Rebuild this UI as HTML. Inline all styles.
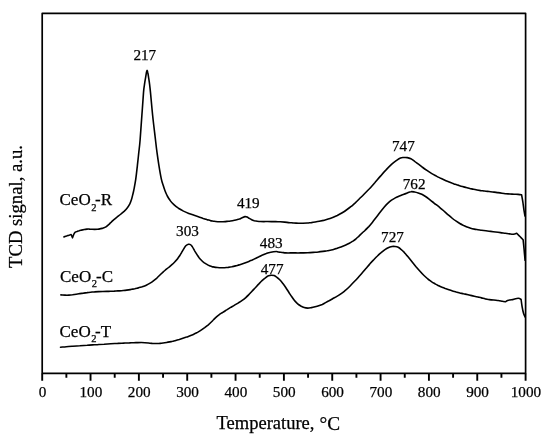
<!DOCTYPE html><html><head><meta charset="utf-8"><style>html,body{margin:0;padding:0;background:#fff;}svg{display:block}text{font-family:"Liberation Serif","Times New Roman",serif;fill:#000;stroke:#000;stroke-width:0.25px}</style></head><body>
<svg width="550" height="441" viewBox="0 0 550 441">
<rect x="42.2" y="13.3" width="483.40000000000003" height="360.09999999999997" fill="none" stroke="#000" stroke-width="1.7" stroke-linejoin="round"/>
<path d="M42.20,373.4V380.70M66.37,373.4V377.70M90.54,373.4V380.70M114.71,373.4V377.70M138.88,373.4V380.70M163.05,373.4V377.70M187.22,373.4V380.70M211.39,373.4V377.70M235.56,373.4V380.70M259.73,373.4V377.70M283.90,373.4V380.70M308.07,373.4V377.70M332.24,373.4V380.70M356.41,373.4V377.70M380.58,373.4V380.70M404.75,373.4V377.70M428.92,373.4V380.70M453.09,373.4V377.70M477.26,373.4V380.70M501.43,373.4V377.70M525.60,373.4V380.70" stroke="#000" stroke-width="1.9" fill="none"/>
<path d="M63.9,237.0 C64.3,236.8 65.7,236.3 66.6,236.0 C67.4,235.7 68.3,235.5 69.1,235.2 C69.9,234.9 71.1,234.5 71.1,234.5 C71.1,234.5 72.5,237.8 72.5,237.8 C72.5,237.8 73.6,234.7 73.6,234.7 C73.6,234.7 74.4,232.9 75.0,232.4 C75.6,231.9 76.3,231.7 77.0,231.5 C77.7,231.2 78.4,230.9 79.2,230.7 C79.9,230.5 80.8,230.3 81.6,230.1 C82.5,229.9 83.4,229.7 84.3,229.5 C85.2,229.3 86.1,229.2 87.0,229.1 C87.9,229.0 88.8,229.0 89.6,229.1 C90.5,229.1 91.3,229.2 92.2,229.3 C93.0,229.4 93.9,229.4 94.7,229.4 C95.6,229.4 96.4,229.4 97.3,229.3 C98.1,229.2 99.0,229.1 99.8,228.9 C100.6,228.8 101.4,228.6 102.2,228.4 C102.9,228.1 103.7,227.9 104.4,227.6 C105.1,227.3 105.7,226.9 106.4,226.5 C107.1,226.0 107.7,225.4 108.4,224.8 C109.2,224.2 109.9,223.4 110.7,222.7 C111.5,221.9 112.4,221.0 113.4,220.1 C114.4,219.3 115.5,218.3 116.7,217.4 C117.9,216.4 119.2,215.5 120.4,214.5 C121.6,213.5 122.9,212.4 124.1,211.4 C125.2,210.3 126.3,209.2 127.2,208.0 C128.2,206.8 129.0,205.5 129.7,204.2 C130.4,202.8 130.9,201.3 131.4,199.8 C131.9,198.3 132.3,196.6 132.7,194.9 C133.1,193.2 133.4,192.4 133.9,189.7 C134.4,187.0 135.2,182.9 135.8,178.8 C136.4,174.7 136.9,169.7 137.4,165.3 C137.9,160.9 138.4,156.6 138.8,152.3 C139.3,148.1 139.6,146.2 140.1,140.0 C140.6,133.8 141.3,122.9 141.9,115.0 C142.5,107.1 143.1,97.7 143.5,92.6 C143.9,87.5 144.2,86.9 144.5,84.4 C144.8,81.9 145.3,79.5 145.6,77.6 C145.9,75.6 146.2,73.9 146.4,72.7 C146.7,71.5 146.9,70.3 147.1,70.3 C147.3,70.3 147.6,71.5 147.8,72.7 C148.1,73.9 148.3,75.6 148.6,77.6 C148.9,79.5 149.3,81.9 149.6,84.4 C149.9,86.9 150.0,87.5 150.5,92.6 C151.0,97.7 151.8,107.1 152.6,115.0 C153.4,122.9 154.8,133.8 155.5,140.0 C156.2,146.2 156.4,148.1 157.0,152.3 C157.6,156.6 158.2,160.9 158.9,165.3 C159.6,169.7 160.6,175.5 161.3,178.8 C162.0,182.1 162.4,183.0 163.1,185.0 C163.7,187.0 164.3,188.9 165.0,190.7 C165.7,192.6 166.5,194.3 167.3,196.0 C168.2,197.6 169.1,199.2 170.2,200.6 C171.3,202.1 172.5,203.4 173.9,204.7 C175.2,205.9 176.8,207.1 178.4,208.2 C180.0,209.2 181.7,210.2 183.5,211.1 C185.2,211.9 187.0,212.7 188.8,213.4 C190.6,214.1 192.4,214.7 194.1,215.3 C195.8,215.9 197.5,216.5 199.0,217.0 C200.5,217.5 201.8,217.9 203.2,218.4 C204.5,218.8 205.7,219.2 206.9,219.6 C208.1,219.9 209.3,220.3 210.5,220.6 C211.7,220.8 213.0,221.1 214.2,221.3 C215.4,221.5 216.6,221.6 217.8,221.7 C219.0,221.8 220.3,221.8 221.5,221.8 C222.7,221.8 223.9,221.7 225.1,221.6 C226.3,221.5 227.5,221.3 228.7,221.2 C229.9,221.0 231.2,220.9 232.4,220.7 C233.6,220.5 234.8,220.3 235.9,220.0 C237.0,219.8 238.1,219.5 239.2,219.1 C240.2,218.7 241.2,218.2 242.2,217.8 C243.2,217.4 244.1,216.7 244.9,216.6 C245.7,216.5 246.4,216.7 247.1,217.0 C247.8,217.3 248.6,218.0 249.3,218.4 C250.1,218.9 250.9,219.4 251.7,219.8 C252.5,220.2 253.4,220.5 254.3,220.8 C255.2,221.0 256.1,221.2 257.2,221.3 C258.2,221.4 259.3,221.5 260.4,221.5 C261.5,221.6 262.7,221.6 263.9,221.6 C265.1,221.6 266.3,221.5 267.6,221.5 C268.8,221.5 270.1,221.5 271.5,221.6 C272.8,221.6 274.2,221.6 275.7,221.6 C277.1,221.7 278.7,221.7 280.2,221.8 C281.7,221.9 283.2,222.0 284.7,222.1 C286.2,222.3 287.8,222.4 289.3,222.6 C290.8,222.7 292.3,222.9 293.8,223.0 C295.3,223.1 296.9,223.2 298.4,223.3 C299.9,223.3 301.4,223.3 302.9,223.3 C304.4,223.2 305.9,223.1 307.3,223.0 C308.8,222.9 310.1,222.7 311.4,222.6 C312.7,222.4 313.9,222.2 315.2,222.0 C316.5,221.8 317.8,221.6 319.2,221.3 C320.6,221.0 322.1,220.7 323.6,220.4 C325.1,220.0 326.7,219.6 328.2,219.1 C329.7,218.7 331.2,218.1 332.7,217.5 C334.2,216.9 335.8,216.2 337.3,215.5 C338.8,214.7 340.3,213.9 341.8,213.0 C343.3,212.1 344.9,211.1 346.4,210.0 C347.9,209.0 349.4,207.9 350.8,206.7 C352.3,205.5 353.6,204.3 355.0,203.1 C356.4,201.8 357.8,200.4 359.2,199.0 C360.7,197.5 362.3,196.0 364.0,194.2 C365.7,192.5 367.5,190.7 369.4,188.8 C371.2,186.8 373.1,184.6 375.0,182.5 C376.9,180.3 378.8,178.0 380.7,175.9 C382.5,173.7 384.4,171.5 386.3,169.6 C388.1,167.6 389.9,165.8 391.5,164.3 C393.2,162.8 394.7,161.7 396.2,160.6 C397.7,159.6 399.3,158.5 400.5,158.0 C401.7,157.5 402.5,157.6 403.6,157.5 C404.7,157.4 406.1,157.4 407.3,157.6 C408.5,157.8 409.7,158.2 410.9,158.8 C412.1,159.4 413.3,160.4 414.6,161.3 C415.9,162.2 417.1,163.2 418.5,164.2 C419.9,165.2 421.3,166.4 422.8,167.5 C424.2,168.6 425.8,169.7 427.3,170.7 C428.8,171.8 430.3,172.7 431.8,173.6 C433.3,174.5 434.9,175.3 436.4,176.1 C437.9,176.9 439.4,177.6 440.8,178.3 C442.3,179.0 443.6,179.6 444.9,180.2 C446.2,180.8 447.3,181.2 448.5,181.7 C449.6,182.2 450.7,182.6 451.8,183.0 C453.0,183.4 454.1,183.9 455.3,184.3 C456.5,184.7 457.7,185.1 458.9,185.4 C460.1,185.8 461.3,186.2 462.5,186.5 C463.7,186.9 465.0,187.2 466.2,187.5 C467.4,187.8 468.6,188.2 469.8,188.5 C471.0,188.8 472.3,189.0 473.5,189.3 C474.7,189.6 475.9,189.8 477.1,190.0 C478.3,190.2 479.5,190.4 480.7,190.6 C481.9,190.7 483.1,190.9 484.3,191.0 C485.4,191.1 486.5,191.3 487.5,191.4 C488.6,191.5 489.5,191.6 490.6,191.7 C491.8,191.8 492.9,191.9 494.1,192.1 C495.4,192.3 496.7,192.4 498.0,192.6 C499.3,192.8 500.7,193.0 502.0,193.2 C503.3,193.4 504.7,193.5 506.0,193.7 C507.3,193.8 508.7,193.9 510.0,194.0 C511.3,194.1 512.7,194.1 514.0,194.2 C515.3,194.3 516.7,194.3 518.0,194.4 C519.3,194.5 521.6,194.8 521.6,194.8 C521.6,194.8 522.4,199.0 522.8,201.6 C523.2,204.2 523.6,208.0 524.0,210.4 C524.4,212.8 524.8,215.1 525.0,216.0" fill="none" stroke="#000" stroke-width="1.6" stroke-linejoin="round" stroke-linecap="round"/>
<path d="M60.9,294.9 C61.6,294.9 63.7,295.1 65.0,295.1 C66.3,295.2 67.6,295.2 68.9,295.1 C70.1,295.0 71.3,294.9 72.5,294.8 C73.8,294.6 75.0,294.4 76.2,294.2 C77.4,294.0 78.6,293.8 79.8,293.6 C81.0,293.4 82.3,293.2 83.5,293.1 C84.7,292.9 85.9,292.7 87.1,292.6 C88.3,292.4 89.5,292.3 90.7,292.2 C92.0,292.1 93.2,291.9 94.5,291.9 C95.8,291.8 97.1,291.7 98.5,291.6 C99.9,291.6 101.4,291.6 102.8,291.5 C104.1,291.5 105.5,291.5 106.8,291.4 C108.1,291.4 109.3,291.3 110.5,291.3 C111.8,291.2 113.0,291.1 114.2,291.1 C115.4,291.0 116.6,291.0 117.8,290.9 C119.0,290.9 120.3,290.8 121.5,290.7 C122.7,290.6 123.9,290.5 125.1,290.4 C126.3,290.3 127.5,290.1 128.6,289.9 C129.7,289.7 130.7,289.5 131.8,289.3 C132.8,289.1 133.7,288.9 134.8,288.7 C135.9,288.4 137.0,288.2 138.3,287.9 C139.5,287.5 140.9,287.2 142.2,286.8 C143.6,286.3 145.0,285.8 146.3,285.2 C147.6,284.6 148.9,283.9 150.1,283.1 C151.4,282.4 152.6,281.5 153.7,280.6 C154.9,279.7 156.0,278.7 157.1,277.8 C158.1,276.8 159.2,275.7 160.2,274.7 C161.2,273.7 162.3,272.7 163.3,271.8 C164.3,270.9 165.4,270.1 166.4,269.2 C167.4,268.4 168.4,267.6 169.4,266.8 C170.3,266.0 171.3,265.2 172.2,264.4 C173.1,263.6 173.9,262.8 174.7,262.0 C175.6,261.2 176.3,260.3 177.1,259.4 C177.8,258.4 178.6,257.4 179.3,256.3 C180.0,255.2 180.7,253.9 181.5,252.7 C182.2,251.5 182.9,250.3 183.6,249.1 C184.4,248.0 185.0,246.6 185.8,245.8 C186.6,245.0 187.6,244.5 188.4,244.3 C189.2,244.1 189.8,244.2 190.5,244.6 C191.2,245.0 191.7,245.9 192.4,246.9 C193.1,247.9 193.8,249.4 194.5,250.6 C195.3,251.8 196.0,253.0 196.7,254.1 C197.4,255.3 198.2,256.4 198.9,257.4 C199.7,258.4 200.5,259.3 201.4,260.2 C202.2,261.1 203.1,261.9 204.0,262.6 C205.0,263.3 205.9,263.9 206.9,264.4 C207.8,265.0 208.7,265.4 209.5,265.7 C210.3,266.1 211.1,266.3 211.9,266.6 C212.7,266.8 213.4,266.9 214.3,267.1 C215.3,267.3 216.3,267.4 217.4,267.5 C218.5,267.6 219.7,267.7 220.9,267.7 C222.1,267.7 223.3,267.7 224.5,267.7 C225.7,267.6 227.0,267.5 228.2,267.4 C229.4,267.2 230.6,267.0 231.8,266.8 C233.0,266.5 234.3,266.2 235.5,265.9 C236.7,265.6 237.9,265.2 239.1,264.9 C240.3,264.5 241.5,264.1 242.7,263.7 C243.9,263.3 245.1,262.9 246.2,262.4 C247.4,262.0 248.4,261.6 249.4,261.2 C250.4,260.8 251.3,260.4 252.3,260.0 C253.3,259.5 254.3,259.0 255.4,258.5 C256.5,258.0 257.7,257.3 258.9,256.8 C260.1,256.2 261.3,255.5 262.5,255.0 C263.7,254.4 265.0,254.0 266.2,253.6 C267.4,253.1 268.6,252.8 269.8,252.5 C271.1,252.3 272.4,252.0 273.5,251.8 C274.6,251.6 275.6,251.5 276.4,251.5 C277.2,251.5 277.5,251.8 278.5,252.0 C279.5,252.2 280.9,252.3 282.2,252.5 C283.4,252.6 284.0,252.8 285.8,252.9 C287.6,253.0 290.7,252.9 293.2,252.9 C295.6,252.9 298.1,253.0 300.5,252.9 C303.0,252.9 305.4,252.8 307.8,252.7 C310.2,252.6 313.3,252.4 315.1,252.3 C316.9,252.2 317.5,252.1 318.8,251.9 C320.1,251.8 321.5,251.6 322.9,251.4 C324.3,251.2 325.7,251.0 327.1,250.8 C328.5,250.5 329.9,250.3 331.2,250.0 C332.5,249.7 333.7,249.3 334.9,248.9 C336.1,248.6 337.3,248.2 338.5,247.7 C339.7,247.3 341.0,246.9 342.2,246.4 C343.4,245.9 344.6,245.4 345.8,244.9 C347.0,244.4 348.3,243.8 349.4,243.2 C350.6,242.6 351.7,241.9 352.8,241.2 C353.9,240.4 354.9,239.7 356.0,238.8 C357.0,238.0 358.0,237.0 359.0,236.1 C360.0,235.2 360.9,234.2 362.0,233.2 C363.0,232.2 364.1,231.3 365.2,230.2 C366.4,229.1 367.5,227.9 368.8,226.6 C370.0,225.3 371.2,223.8 372.5,222.2 C373.8,220.6 375.0,218.9 376.3,217.2 C377.6,215.6 378.8,213.8 380.1,212.2 C381.4,210.6 382.6,209.0 383.9,207.5 C385.2,206.0 386.4,204.6 387.7,203.4 C389.0,202.2 390.2,201.2 391.5,200.2 C392.8,199.3 394.0,198.6 395.3,197.9 C396.6,197.2 398.0,196.6 399.3,196.0 C400.6,195.5 402.0,194.9 403.3,194.4 C404.7,193.9 406.0,193.4 407.3,192.9 C408.6,192.4 409.7,191.8 410.9,191.7 C412.1,191.5 413.3,191.8 414.5,192.0 C415.7,192.2 416.9,192.5 418.2,192.9 C419.4,193.3 420.6,193.7 421.8,194.3 C423.0,194.9 424.3,195.7 425.5,196.5 C426.7,197.3 427.9,198.2 429.1,199.1 C430.3,200.1 431.5,201.1 432.7,202.0 C433.9,202.9 435.1,203.9 436.2,204.7 C437.4,205.6 438.4,206.4 439.4,207.2 C440.4,208.0 441.3,208.7 442.3,209.6 C443.3,210.4 444.3,211.3 445.4,212.3 C446.5,213.3 447.7,214.4 448.9,215.4 C450.1,216.5 451.3,217.5 452.5,218.5 C453.7,219.5 455.0,220.4 456.2,221.2 C457.4,222.0 458.6,222.8 459.8,223.5 C461.0,224.2 462.3,224.8 463.5,225.4 C464.7,225.9 465.9,226.5 467.1,227.0 C468.3,227.5 469.5,227.9 470.7,228.3 C471.9,228.7 473.1,228.9 474.3,229.1 C475.5,229.4 476.6,229.5 477.9,229.7 C479.1,229.9 480.3,230.0 481.6,230.2 C483.0,230.4 484.4,230.6 485.9,230.8 C487.4,231.0 489.1,231.2 490.7,231.4 C492.3,231.6 494.0,231.8 495.6,232.0 C497.2,232.2 498.9,232.4 500.5,232.6 C502.1,232.8 503.8,233.1 505.3,233.3 C506.8,233.5 508.3,233.8 509.6,233.9 C510.9,234.1 512.1,234.4 513.3,234.3 C514.5,234.2 516.7,233.3 516.7,233.3 C516.7,233.3 519.1,235.7 520.2,236.8 C521.3,237.9 523.1,239.7 523.1,239.7 C523.1,239.7 523.8,246.1 524.1,249.5 C524.4,252.9 524.9,258.5 525.1,260.3" fill="none" stroke="#000" stroke-width="1.6" stroke-linejoin="round" stroke-linecap="round"/>
<path d="M60.5,347.2 C61.5,347.1 64.2,346.9 66.2,346.7 C68.2,346.6 70.4,346.4 72.7,346.2 C75.0,346.0 77.4,345.8 79.8,345.7 C82.2,345.5 84.7,345.3 87.1,345.2 C89.5,345.0 92.5,344.9 94.4,344.8 C96.3,344.7 97.1,344.7 98.8,344.5 C100.4,344.4 102.1,344.3 104.1,344.2 C106.1,344.0 108.4,343.8 110.7,343.7 C112.9,343.6 115.4,343.5 117.7,343.4 C119.9,343.2 122.2,343.2 124.1,343.1 C126.1,343.0 127.9,342.9 129.5,342.9 C131.1,342.8 132.4,342.8 133.8,342.7 C135.2,342.7 136.4,342.6 137.6,342.6 C138.9,342.5 140.1,342.5 141.3,342.5 C142.5,342.5 143.7,342.6 144.9,342.7 C146.1,342.8 147.3,342.9 148.5,343.0 C149.7,343.2 151.0,343.3 152.2,343.4 C153.4,343.4 154.6,343.5 155.8,343.5 C157.0,343.5 158.3,343.4 159.5,343.4 C160.7,343.3 161.9,343.1 163.1,343.0 C164.3,342.9 165.5,342.7 166.6,342.5 C167.7,342.3 168.7,342.1 169.7,341.9 C170.7,341.7 171.6,341.5 172.6,341.3 C173.6,341.0 174.6,340.8 175.8,340.4 C176.9,340.1 178.1,339.8 179.3,339.5 C180.5,339.1 181.7,338.7 182.9,338.3 C184.1,337.9 185.3,337.5 186.5,337.1 C187.7,336.6 189.0,336.2 190.2,335.7 C191.4,335.2 192.6,334.8 193.8,334.2 C195.0,333.6 196.3,333.0 197.5,332.4 C198.7,331.7 199.9,331.0 201.1,330.2 C202.3,329.4 203.5,328.5 204.7,327.7 C205.8,326.8 206.9,325.9 208.0,325.1 C209.0,324.2 209.9,323.4 210.8,322.5 C211.8,321.6 212.6,320.7 213.5,319.8 C214.4,318.9 215.2,318.0 216.2,317.1 C217.2,316.2 218.2,315.4 219.3,314.6 C220.4,313.8 221.6,313.1 222.8,312.3 C224.0,311.5 225.4,310.7 226.7,309.9 C228.0,309.0 229.3,308.2 230.6,307.4 C232.0,306.6 233.3,305.9 234.6,305.1 C235.9,304.3 237.3,303.6 238.5,302.8 C239.8,302.0 241.0,301.2 242.2,300.3 C243.4,299.5 244.5,298.7 245.5,297.8 C246.6,296.8 247.6,295.9 248.6,294.9 C249.7,293.8 250.7,292.7 251.8,291.5 C253.0,290.3 254.1,289.0 255.3,287.8 C256.5,286.5 257.7,285.1 258.9,283.9 C260.0,282.7 261.2,281.4 262.3,280.4 C263.4,279.4 264.4,278.5 265.4,277.8 C266.4,277.0 267.4,276.2 268.4,275.8 C269.4,275.4 270.3,275.2 271.3,275.2 C272.3,275.2 273.2,275.2 274.2,275.6 C275.2,276.0 276.1,276.7 277.1,277.5 C278.1,278.2 279.0,279.0 280.0,280.0 C281.0,281.0 281.9,282.2 282.9,283.5 C283.9,284.8 284.9,286.2 285.9,287.7 C286.9,289.2 287.8,290.8 288.8,292.3 C289.8,293.8 290.8,295.4 291.8,296.8 C292.8,298.3 293.7,299.6 294.7,300.8 C295.7,301.9 296.6,302.9 297.7,303.8 C298.7,304.7 299.7,305.3 300.8,306.0 C301.9,306.6 303.0,307.2 304.2,307.6 C305.4,308.0 306.6,308.1 307.8,308.1 C309.0,308.1 310.3,307.8 311.5,307.6 C312.7,307.4 313.9,307.1 315.1,306.8 C316.3,306.5 317.5,306.2 318.7,305.8 C319.9,305.4 321.1,304.9 322.3,304.4 C323.4,303.9 324.5,303.2 325.6,302.6 C326.7,302.0 327.8,301.4 329.0,300.8 C330.2,300.1 331.4,299.5 332.7,298.7 C334.0,298.0 335.5,297.3 336.9,296.4 C338.3,295.6 339.8,294.7 341.2,293.6 C342.7,292.6 344.1,291.4 345.6,290.2 C347.0,289.0 348.5,287.6 349.9,286.2 C351.3,284.8 352.8,283.3 354.1,281.8 C355.5,280.4 356.9,278.9 358.2,277.4 C359.5,275.9 360.8,274.5 362.1,273.0 C363.4,271.5 364.6,270.0 365.9,268.5 C367.2,267.0 368.4,265.5 369.7,264.1 C371.0,262.6 372.3,261.2 373.6,259.9 C374.9,258.5 376.1,257.2 377.4,256.0 C378.6,254.8 379.8,253.7 381.1,252.7 C382.3,251.7 383.4,250.8 384.6,249.9 C385.8,249.1 387.0,248.3 388.2,247.7 C389.4,247.1 391.0,246.7 392.1,246.5 C393.2,246.3 394.1,246.4 395.1,246.5 C396.1,246.6 397.2,246.8 398.2,247.3 C399.2,247.8 400.0,248.5 401.0,249.4 C402.0,250.2 403.1,251.2 404.3,252.4 C405.4,253.7 406.7,255.2 408.0,256.8 C409.3,258.4 410.7,260.1 412.0,261.8 C413.3,263.5 414.7,265.2 416.0,266.8 C417.3,268.3 418.7,269.9 420.0,271.3 C421.3,272.8 422.6,274.2 424.0,275.5 C425.3,276.7 426.6,277.9 427.9,279.0 C429.2,280.0 430.6,280.9 431.8,281.8 C433.1,282.7 434.4,283.4 435.5,284.1 C436.7,284.8 437.8,285.3 438.8,285.8 C439.9,286.4 440.9,286.8 442.0,287.2 C443.1,287.6 444.2,288.1 445.3,288.5 C446.5,288.9 447.7,289.3 448.9,289.7 C450.1,290.1 451.3,290.5 452.5,290.9 C453.7,291.3 455.0,291.6 456.2,292.0 C457.4,292.3 458.6,292.7 459.8,293.0 C461.0,293.3 462.3,293.5 463.5,293.8 C464.7,294.0 465.9,294.3 467.1,294.5 C468.3,294.8 469.5,295.1 470.7,295.4 C471.9,295.7 473.1,296.0 474.3,296.2 C475.5,296.5 476.7,296.8 477.9,297.0 C479.1,297.3 480.2,297.6 481.5,297.9 C482.7,298.2 484.0,298.6 485.3,298.9 C486.6,299.1 488.0,299.4 489.4,299.6 C490.8,299.8 492.3,299.9 493.8,300.0 C495.2,300.2 496.8,300.3 498.2,300.5 C499.7,300.7 501.3,301.1 502.5,301.3 C503.7,301.5 505.4,301.8 505.4,301.8 C505.4,301.8 507.1,300.7 508.4,300.3 C509.7,299.9 511.7,299.7 513.3,299.4 C514.9,299.0 516.9,298.3 518.2,298.3 C519.5,298.3 521.1,299.5 521.1,299.5 C521.1,299.5 521.7,304.3 522.1,306.7 C522.5,309.1 523.1,311.9 523.6,313.6 C524.1,315.3 524.9,316.4 525.1,317.0" fill="none" stroke="#000" stroke-width="1.6" stroke-linejoin="round" stroke-linecap="round"/>
<text x="42.50" y="396.7" font-size="15.2" text-anchor="middle">0</text>
<text x="90.84" y="396.7" font-size="15.2" text-anchor="middle">100</text>
<text x="139.18" y="396.7" font-size="15.2" text-anchor="middle">200</text>
<text x="187.52" y="396.7" font-size="15.2" text-anchor="middle">300</text>
<text x="235.86" y="396.7" font-size="15.2" text-anchor="middle">400</text>
<text x="284.20" y="396.7" font-size="15.2" text-anchor="middle">500</text>
<text x="332.54" y="396.7" font-size="15.2" text-anchor="middle">600</text>
<text x="380.88" y="396.7" font-size="15.2" text-anchor="middle">700</text>
<text x="429.22" y="396.7" font-size="15.2" text-anchor="middle">800</text>
<text x="477.56" y="396.7" font-size="15.2" text-anchor="middle">900</text>
<text x="525.90" y="396.7" font-size="15.2" text-anchor="middle">1000</text>
<text x="133.4" y="60.0" font-size="15.2">217</text>
<text x="236.9" y="207.9" font-size="15.2">419</text>
<text x="392.0" y="150.5" font-size="15.2">747</text>
<text x="402.7" y="188.6" font-size="15.2">762</text>
<text x="176.1" y="235.9" font-size="15.2">303</text>
<text x="259.8" y="248.3" font-size="15.2">483</text>
<text x="260.7" y="274.0" font-size="15.2">477</text>
<text x="381.1" y="242.1" font-size="15.2">727</text>
<text x="59.5" y="205" font-size="17">CeO</text><text x="91.3" y="211" font-size="10.5">2</text><text x="95" y="205" font-size="17">-R</text>
<text x="60" y="281.5" font-size="17">CeO</text><text x="91.7" y="287" font-size="10.5">2</text><text x="96.1" y="281.5" font-size="17">-C</text>
<text x="59.5" y="336.5" font-size="17">CeO</text><text x="91.3" y="341.7" font-size="10.5">2</text><text x="95.1" y="336.5" font-size="17">-T</text>
<text transform="translate(21.8,268) rotate(-90)" font-size="18.7">TCD signal, a.u.</text>
<text x="216.6" y="429.4" font-size="18.5">Temperature,</text><text x="319.5" y="429.8" font-size="19.3">°C</text>
</svg></body></html>
